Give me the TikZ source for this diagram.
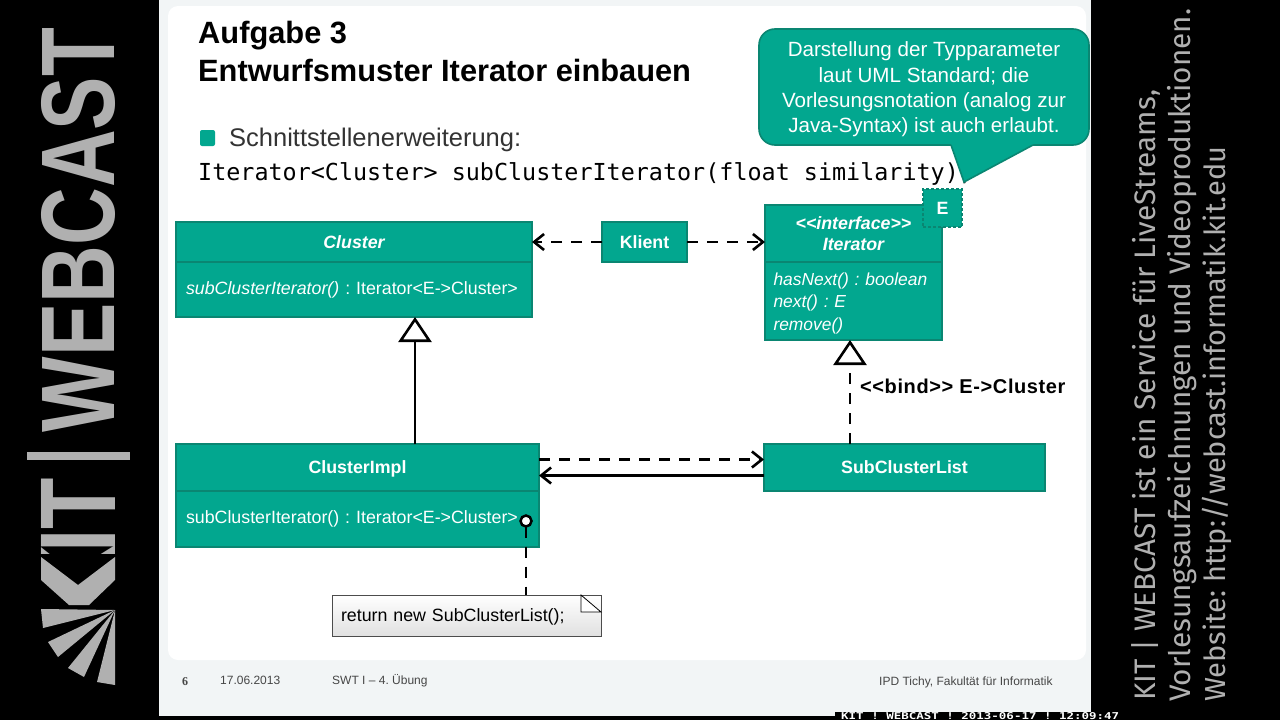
\documentclass[tikz,border=0pt]{standalone}
\usepackage{fontspec}
\setmainfont{Liberation Sans}
\newfontfamily\codefont{DejaVu Sans Mono}
\newfontfamily\sidefont{Fira Sans}
\newfontfamily\pagefont{Liberation Serif}
\usetikzlibrary{arrows.meta}
\definecolor{kitgreen}{RGB}{2,167,143}
\definecolor{kitedge}{RGB}{10,134,114}
\definecolor{slidegray}{RGB}{242,245,246}
\definecolor{logogray}{RGB}{176,176,176}
\definecolor{footgray}{RGB}{70,70,70}
\frenchspacing
\tikzset{
  kitbox/.style={draw=kitedge, line width=1.6pt, fill=kitgreen, text=white, inner sep=0pt, outer sep=0pt},
  classhead/.style={kitbox, align=center, font=\fontsize{17.8}{21.5}\selectfont\bfseries},
  classbody/.style={kitbox, align=left, inner xsep=10pt, font=\fontsize{17.8}{22.5}\selectfont},
  deparrow/.style={black, line width=2.6pt, dash pattern=on 11pt off 9pt, -{Straight Barb[length=10pt,width=16pt,line width=2.6pt]}},
  assocarrow/.style={black, line width=2.6pt, -{Straight Barb[length=10pt,width=16pt,line width=2.6pt]}},
  opentip/.style={-{Triangle[open,length=25pt,width=33pt,line width=2.6pt,fill=white]}},
  sidetext/.style={rotate=90, anchor=base west, text=logogray, inner sep=0pt, font=\sidefont},
  foottext/.style={anchor=base west, text=footgray, inner sep=0pt, font=\fontsize{12}{14}\selectfont},
}
\begin{document}
\begin{tikzpicture}[x=1pt, y=-1pt]
\useasboundingbox (0,0) rectangle (1280,720);
\fill[black] (0,0) rectangle (1280,720);
\fill[slidegray] (159,0) rectangle (1091,716);
\fill[white, rounded corners=10pt] (168,6) rectangle (1086,660);

% logo on the left
\node[rotate=90, anchor=center, text=logogray, inner sep=0pt] (logoWebcast) at (78.5,230)
  {\resizebox{404pt}{73pt}{\bfseries WEBCAST}};
\fill[logogray] (27,452) rectangle (130,460);
\node[rotate=90, anchor=center, text=logogray, inner sep=0pt] (logoKit) at (78,541.5)
  {\resizebox{127pt}{74pt}{\bfseries K\kern-.1em IT}};
\fill[black] (38,553.5) rectangle (118,607);
\fill[logogray] (41,557) -- (41,580) -- (69,605) -- (89,605) -- (115,580) -- (115,557) -- (78,585) -- cycle;
\foreach \ax/\ay/\bx/\by in {41/609/43/628, 48/642/58/657, 68/668/84/677, 97/682/115/685}
  \fill[logogray] (115,610) -- (\ax,\ay) -- (\bx,\by) -- cycle;

% text on the right
\node[sidetext] (sideOne) at (1155,701) {\resizebox{611pt}{!}{KIT | WEBCAST ist ein Service für LiveStreams,}};
\node[sidetext] (sideTwo) at (1190,702) {\resizebox{693pt}{!}{Vorlesungsaufzeichnungen und Videoproduktionen.}};
\node[sidetext] (sideThree) at (1225,702) {\resizebox{555pt}{!}{Website: http://webcast.informatik.kit.edu}};

% heading
\node[anchor=base west, inner sep=0pt, font=\fontsize{30.8}{34}\selectfont\bfseries] (titleOne) at (198,43) {Aufgabe 3};
\node[anchor=base west, inner sep=0pt, font=\fontsize{30.8}{34}\selectfont\bfseries] (titleTwo) at (198,81) {Entwurfsmuster Iterator einbauen};
\fill[kitgreen, rounded corners=2pt] (200,130) rectangle (215,146);
\node[anchor=base west, inner sep=0pt, font=\fontsize{25.5}{28}\selectfont, text=black!80] (extension) at (229,146) {Schnittstellenerweiterung:};
\node[anchor=base west, inner sep=0pt, font=\codefont\fontsize{23.4}{28}\selectfont] (signature) at (198,180)
  {Iterator<Cluster> subClusterIterator(float similarity);};

% classes
\node[classhead, minimum width=356pt, minimum height=40pt] (clusterHead) at (354,242) {\itshape Cluster};
\node[classbody, text width=336pt, minimum height=55pt] (clusterBody) at (354,289.5)
  {\textit{subClusterIterator()} : Iterator<E->Cluster>};
\node[classhead, minimum width=85pt, minimum height=40pt] (klient) at (644.5,242) {Klient};
\node[classhead, minimum width=177pt, minimum height=57pt] (iteratorHead) at (853.5,233.5) {\itshape <{}<interface>{}>\\\itshape Iterator};
\node[classbody, text width=160pt, inner xsep=8.5pt, minimum height=78pt, font=\fontsize{17.4}{22.5}\selectfont\itshape] (iteratorBody) at (853.5,301)
  {\rule{0pt}{17.5pt}hasNext() : boolean\\next() : E\\remove()};
\node[kitbox, densely dashed, minimum width=39pt, minimum height=38pt, font=\fontsize{17.8}{20}\selectfont\bfseries] (typeParam) at (942.5,208) {E};
\node[classhead, minimum width=363pt, minimum height=47pt] (clusterImplHead) at (357.5,467.5) {\raisebox{0pt}[\height][0pt]{ClusterImpl}};
\node[classbody, text width=343pt, minimum height=56pt] (clusterImplBody) at (357.5,519)
  {subClusterIterator() : Iterator<E->Cluster>};
\node[classhead, minimum width=281pt, minimum height=47pt] (subClusterList) at (904.5,467.5) {SubClusterList};

% note
\node[draw=black!70, line width=1pt, top color=white, bottom color=black!12, minimum width=269pt, minimum height=41pt,
  inner xsep=9pt, inner sep=0pt, outer sep=0pt, font=\fontsize{17.8}{20}\selectfont, text width=251pt, align=left] (note) at (466.5,615.5)
  {\raisebox{0pt}[\height][0pt]{return new SubClusterList();}};
\draw[fill=white, line width=0.8pt] ([xshift=-20pt]note.north east) -- ([xshift=-20pt,yshift=-17pt]note.north east) -- ([yshift=-17pt]note.north east) -- cycle;
\node[circle, draw=black, fill=white, line width=2.5pt, minimum size=11pt, inner sep=0pt, outer sep=0pt] (noteDot) at (526,521) {};
\draw[black, line width=2.6pt, dash pattern=on 11pt off 9pt] (noteDot) -- (noteDot |- note.north);

% connectors
\draw[deparrow] (klient.west) -- (klient.west -| clusterHead.east);
\draw[deparrow] (klient.east) -- (klient.east -| iteratorHead.west);
\draw[assocarrow, opentip] ([xshift=57.5pt]clusterImplHead.north) -- ([xshift=61pt]clusterBody.south);
\draw[deparrow, opentip] ([xshift=-54.5pt]subClusterList.north) -- ([xshift=-3.5pt]iteratorBody.south);
\draw[deparrow] ([yshift=8pt]clusterImplHead.east) -- ([yshift=8pt]subClusterList.west);
\draw[assocarrow] ([yshift=-8pt]subClusterList.west) -- ([yshift=-8pt]clusterImplHead.east);
\node[anchor=base west, inner sep=0pt, font=\fontsize{20}{22}\selectfont\bfseries\addfontfeature{LetterSpace=3}] (bindLabel) at (860,393) {<{}<bind>{}> E->Cluster};

% callout
\node[kitbox, rounded corners=16pt, minimum width=330pt, minimum height=116pt, align=center, font=\fontsize{20.6}{25.4}\selectfont] (hint) at (924,87)
  {\rule{0pt}{20pt}Darstellung der Typparameter\\laut UML Standard; die\\Vorlesungsnotation (analog zur\\Java-Syntax) ist auch erlaubt.};
\fill[kitgreen] (951,143) -- (951,145) -- (964,182) -- (1033,145) -- (1033,143) -- cycle;
\draw[kitedge, line width=1.6pt] (951,145) -- (964,182) -- (1033,145);

% footer
\node[anchor=base west, inner sep=0pt, text=footgray, font=\pagefont\fontsize{12}{14}\selectfont\bfseries] (pageNo) at (182,685) {6};
\node[foottext] (footDate) at (220,684) {17.06.2013};
\node[foottext] (footCourse) at (332,684) {SWT I – 4. Übung};
\node[foottext] (footChair) at (879,685) {IPD Tichy, Fakultät für Informatik};
\node[fill=black, text=white, anchor=north west, inner ysep=0pt, inner xsep=6pt, minimum height=8pt, font=\codefont\bfseries] (stamp) at (835,712)
  {\resizebox{278pt}{7pt}{KIT ! WEBCAST ! 2013-06-17 ! 12:09:47}};
\end{tikzpicture}
\end{document}
